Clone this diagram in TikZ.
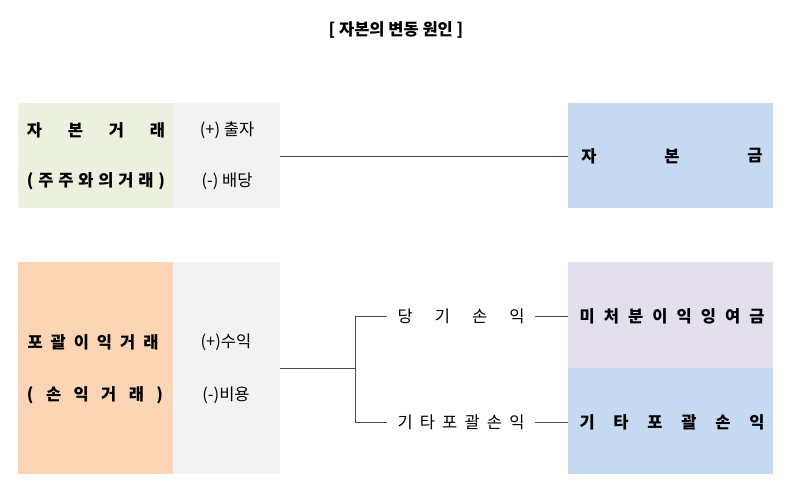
\documentclass[tikz,border=0pt]{standalone}
\usepackage{fontspec}
\setmainfont{Noto Sans CJK KR}
\definecolor{cgreen}{HTML}{EBF1DE}
\definecolor{cgray}{HTML}{F2F2F2}
\definecolor{cblue}{HTML}{C5D9F1}
\definecolor{corange}{HTML}{FCD5B4}
\definecolor{cpurple}{HTML}{E4DFEC}
\newcommand{\spr}[2]{\makebox[#1pt][s]{#2}}
\newcommand{\hf}{\hfill}
\begin{document}
\begin{tikzpicture}[x=1pt,y=-1pt,
  txt/.style={font=\fontsize{16.5}{19}\selectfont, inner sep=0pt},
  btxt/.style={font=\fontsize{16.5}{19}\selectfont\bfseries, inner sep=0pt},
  conn/.style={draw=black!70, line width=0.8pt}]
\useasboundingbox (0,0) rectangle (800,497);
\node[btxt] (title) at (396,30) {[ 자본의 변동 원인 ]};
% top row
\fill[cgreen] (18,103) rectangle (173,208);
\fill[cgray] (173,103) rectangle (280,208);
\fill[cblue] (568,103) rectangle (773,208);
\node[btxt] (a1) at (96,130) {\spr{138}{자 본 거 래}};
\node[btxt] (a2) at (96,181) {\makebox[138pt]{(\hf 주\hf 주\hf 와\hf 의\hf 거\hf 래\hf )}};
\node[txt] (b1) at (227,130) {(+) 출자};
\node[txt] (b2) at (227,181) {(-) 배당};
\node[btxt] (c1) at (589,156) {자};
\node[btxt] (c2) at (672,156) {본};
\node[btxt] (c3) at (755,156) {금};
\coordinate (tl) at (280,156);
\coordinate (tr) at (568,156);
\draw[conn] (tl) -- (tr);
% bottom
\fill[corange] (18,262) rectangle (173,474);
\fill[cgray] (173,262) rectangle (280,474);
\fill[cpurple] (568,262) rectangle (773,368);
\fill[cblue] (568,368) rectangle (773,474);
\node[btxt] (d1) at (93,342) {\makebox[131pt]{포\hf 괄\hf 이\hf 익\hf 거\hf 래}};
\node[btxt] (d2) at (95,395) {\spr{136}{( 손 익 거 래 )}};
\node[txt] (e1) at (226,342) {(+)수익};
\node[txt] (e2) at (226,395) {(-)비용};
\node[txt] (f1) at (461,316) {\spr{127}{당 기 손 익}};
\node[txt] (f2) at (461,422) {\makebox[127pt]{기\hf 타\hf 포\hf 괄\hf 손\hf 익}};
\node[btxt] (g1) at (672,316) {\spr{185}{미 처 분 이 익 잉 여 금}};
\node[btxt] (g2) at (672,422) {\spr{185}{기 타 포 괄 손 익}};
\coordinate (bl) at (280,368);
\coordinate (bm) at (355,368);
\coordinate (bt) at (355,316);
\coordinate (bb) at (355,422);
\coordinate (rt) at (568,316);
\coordinate (rb) at (568,422);
\draw[conn] (bl) -- (bm);
\draw[conn] (bt) -- (bb);
\draw[conn] (bt) -- ([xshift=-10pt]f1.west);
\draw[conn] (bb) -- ([xshift=-10pt]f2.west);
\draw[conn] ([xshift=10pt]f1.east) -- (rt);
\draw[conn] ([xshift=10pt]f2.east) -- (rb);
\end{tikzpicture}
\end{document}
